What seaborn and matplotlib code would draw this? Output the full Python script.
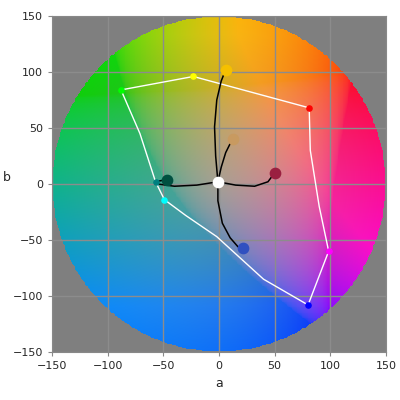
import numpy as np
import pandas as pd
import matplotlib
matplotlib.use("Agg")
import matplotlib.pyplot as plt
import seaborn as sns

# gamut polygon (white line) waypoints
gamut_a = [-88, -23, 81, 82, 90, 98.5, 80, 40, -2, -30, -49, -57, -71, -88]
gamut_b = [84, 96, 68, 30, -20, -60, -108, -85, -47, -28, -14, 2, 45, 84]
# primaries / secondaries on gamut
prim_a = [-88, -23, 81, 98.5, 80, -49, -57]
prim_b = [84, 96, 68, -60, -108, -14, 2]
prim_c = ["#00ff00", "#ffff00", "#ff0000", "#ff00ff", "#0000ff", "#00ffff", "#008080"]
# black curves from center to samples
curves = {
    "orange": ([-1, -3, -4, -2, 2, 6], [2, 25, 51, 75, 92, 102]),
    "tan": ([-1, 2, 6, 10, 13], [2, 15, 28, 36, 40]),
    "maroon": ([-1, 15, 32, 44, 50], [2, -1, -2, 2, 10]),
    "blue": ([-1, -1, 3, 10, 17, 22], [2, -15, -35, -48, -56, -57]),
    "green": ([-1, -20, -40, -55, -57, -47], [2, -1, -2, 0, 2, 4]),
}
samp_a = [6, 13, 50, 22, -47, -1]
samp_b = [102, 40, 10, -57, 4, 2]
samp_c = ["#f5c000", "#c89a60", "#9a2040", "#3050c0", "#005040", "#ffffff"]
ticks = [-150, -100, -50, 0, 50, 100, 150]

def lab2rgb(L, a, b):
    fy = (L + 16) / 116
    fx = fy + a / 500
    fz = fy - b / 200
    def finv(t):
        return np.where(t > 6/29, t**3, 3*(6/29)**2*(t - 4/29))
    X = 0.95047*finv(fx); Y = finv(fy); Z = 1.08883*finv(fz)
    r = 3.2406*X - 1.5372*Y - 0.4986*Z
    g = -0.9689*X + 1.8758*Y + 0.0415*Z
    bb = 0.0557*X - 0.2040*Y + 1.0570*Z
    rgb = np.stack([r, g, bb], -1)
    rgb = np.clip(rgb, 0, 1)
    return np.where(rgb > 0.0031308, 1.055*rgb**(1/2.4) - 0.055, 12.92*rgb)

sns.set_style("white")
fig = plt.figure(figsize=(4, 4), dpi=100)
ax = fig.add_axes([0.13, 0.12, 0.835, 0.84])
ax.set_facecolor("#7f7f7f")
g = np.linspace(-150, 150, 400)
A, B = np.meshgrid(g, g)
L = np.clip(58 + 0.15*B, 30, 78)
img = lab2rgb(L, A*0.85, B*0.85)
r = np.hypot(A, B)
mix = np.clip(0.45 - r/400, 0.08, 0.45)[..., None]
img = img*(1-mix) + np.array([0.78, 0.72, 0.62])*mix
alpha = (r <= 150).astype(float)
img = np.concatenate([img, alpha[..., None]], -1)
ax.imshow(img, extent=[-150, 150, -150, 150], origin="lower", zorder=0, interpolation="nearest")

for v in ticks:
    ax.axvline(v, color="#8c8c8c", lw=1, zorder=1)
    ax.axhline(v, color="#8c8c8c", lw=1, zorder=1)

sns.lineplot(x=gamut_a, y=gamut_b, sort=False, estimator=None, color="white", lw=1, ax=ax, zorder=2)
for k, (xa, yb) in curves.items():
    sns.lineplot(x=xa, y=yb, sort=False, estimator=None, color="black", lw=1.1, ax=ax, zorder=2)
for x, y, c in zip(prim_a, prim_b, prim_c):
    ax.scatter([x], [y], s=14, color=c, zorder=3)
for x, y, c in zip(samp_a, samp_b, samp_c):
    ax.scatter([x], [y], s=55, color=c, zorder=3)

ax.set_xlim(-150, 150); ax.set_ylim(-150, 150)
ax.set_aspect("auto")
ax.set_xticks(ticks); ax.set_yticks(ticks)
ax.tick_params(labelsize=8, length=3, direction="out", color="#888888", bottom=True, left=True)
ax.set_xlabel("a", fontsize=9)
ax.set_ylabel("b", fontsize=9, rotation=0, labelpad=4)
for s in ax.spines.values():
    s.set_color("#888888")
fig.savefig("out.png", dpi=100)
